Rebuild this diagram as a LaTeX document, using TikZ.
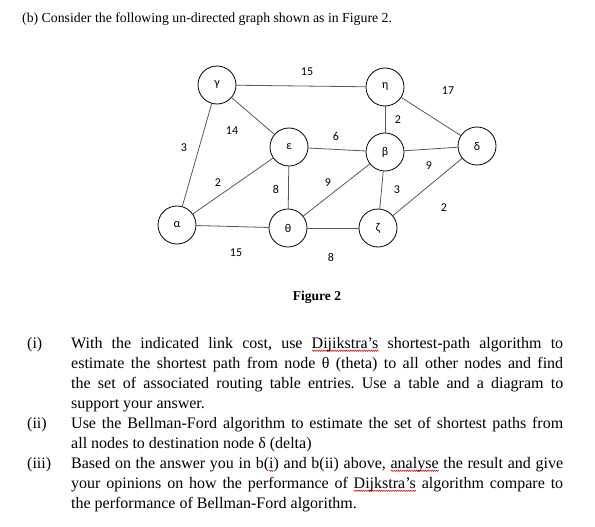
\documentclass[tikz,border=0pt]{standalone}
\usepackage{fontspec}
\setmainfont{Liberation Serif}
\newfontfamily\graphfont{Carlito}
\usetikzlibrary{decorations.pathmorphing}
\newcommand{\squig}[1]{\setbox0=\hbox{#1}\leavevmode\rlap{\tikz[baseline=0pt]{\draw[red!85!black,line width=0.4pt,decorate,decoration={zigzag,amplitude=0.7pt,segment length=1.8pt}] (0pt,-2.8pt) -- (\wd0,-2.8pt);}}\box0\relax}
\begin{document}
\begin{tikzpicture}[x=1pt,y=-1pt,
  gnode/.style={circle,draw=black,line width=0.8pt,minimum size=38pt,inner sep=0pt,font=\graphfont\fontsize{12}{14}\selectfont},
  edge/.style={draw=black!65,line width=0.8pt},
  wlab/.style={font=\graphfont\fontsize{12}{14}\selectfont,inner sep=1pt},
  bodytext/.style={anchor=base west,inner sep=0pt,text width=492pt,align=justify,font=\fontsize{16}{20}\selectfont},
  itemlab/.style={anchor=base west,inner sep=0pt,font=\fontsize{16}{20}\selectfont}
]
\useasboundingbox[fill=white] (0,0) rectangle (595,527);

% title
\node[anchor=base west,inner sep=0pt,font=\fontsize{13.8}{16}\selectfont] (title) at (22,23) {(b) Consider the following un-directed graph shown as in Figure 2.};

% nodes
\node[gnode] (g) at (217,85) {γ};
\node[gnode] (e) at (289,147) {ε};
\node[gnode] (h) at (385,87) {η};
\node[gnode] (b) at (385,152) {β};
\node[gnode] (d) at (477,146) {δ};
\node[gnode] (a) at (177,225) {α};
\node[gnode] (t) at (288,228) {θ};
\node[gnode] (z) at (378,228) {ζ};

% edges
\draw[edge] (g) -- (h);
\draw[edge] (g) -- (e);
\draw[edge] (g) -- (a);
\draw[edge] (a) -- (e);
\draw[edge] (a) -- (t);
\draw[edge] (e) -- (t);
\draw[edge] (e) -- (b);
\draw[edge] (h) -- (b);
\draw[edge] (h) -- (d);
\draw[edge] (b) -- (d);
\draw[edge] (t) -- (b);
\draw[edge] (b) -- (z);
\draw[edge] (t) -- (z);
\draw[edge] (z) -- (d);

% weights
\node[wlab] (w1) at (307,72) {15};
\node[wlab] (w2) at (232,131) {14};
\node[wlab] (w3) at (184,148) {3};
\node[wlab] (w4) at (218,183) {2};
\node[wlab] (w5) at (236,253) {15};
\node[wlab] (w6) at (276,189) {8};
\node[wlab] (w7) at (336,136) {6};
\node[wlab] (w8) at (398,120) {2};
\node[wlab] (w9) at (448,91) {17};
\node[wlab] (w10) at (429,166) {9};
\node[wlab] (w11) at (328,183) {9};
\node[wlab] (w12) at (397,190) {3};
\node[wlab] (w13) at (331,257) {8};
\node[wlab] (w14) at (444,208) {2};

% caption
\node[anchor=base,inner sep=0pt,font=\bfseries\fontsize{13.5}{16}\selectfont] (cap) at (317,300) {Figure 2};

% questions
\node[itemlab] (l1) at (27,348) {(i)};
\node[bodytext] (q1) at (71,348) {\hyphenpenalty=10000\frenchspacing With the indicated link cost, use \squig{Dijikstra’s} shortest-path algorithm to\linebreak estimate the shortest path from node θ (theta) to all other nodes and find\linebreak the set of associated routing table entries. Use a table and a diagram to\linebreak support your answer.};
\node[itemlab] (l2) at (27,428) {(ii)};
\node[bodytext] (q2) at (71,428) {\hyphenpenalty=10000\frenchspacing Use the Bellman-Ford algorithm to estimate the set of shortest paths from\linebreak all nodes to destination node δ (delta)};
\node[itemlab] (l3) at (27,468) {(iii)};
\node[bodytext] (q3) at (71,468) {\hyphenpenalty=10000\frenchspacing Based on the answer you in b(\squig{i}) and b(ii) above, \squig{analyse} the result and give\linebreak your opinions on how the performance of \squig{Dijkstra’s} algorithm compare to\linebreak the performance of Bellman-Ford algorithm.};
\end{tikzpicture}
\end{document}
